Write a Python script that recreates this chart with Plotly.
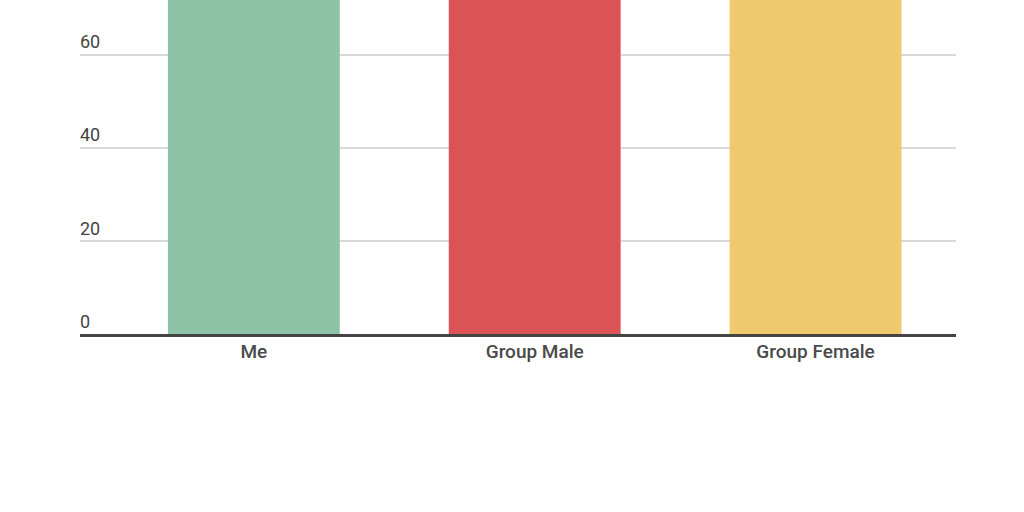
import plotly.graph_objects as go

# categories and values (bars run past the top of the visible axis)
groups = ["Me", "Group Male", "Group Female"]
scores = [90, 90, 90]
bar_colors = ["#8fc3a8", "#dc5355", "#efc96b"]
y_ticks = [0, 20, 40, 60]

fig = go.Figure(go.Bar(
    x=groups, y=scores, marker_color=bar_colors,
    width=0.612, marker_line_width=0, hoverinfo="x+y",
))

fig.update_layout(
    width=1024, height=512,
    margin=dict(l=80, r=68, t=0, b=178),
    paper_bgcolor="white", plot_bgcolor="white",
    font=dict(family="Roboto", size=19, color="#4a4a4a", weight=500),
    showlegend=False,
)
fig.update_xaxes(
    range=[-0.619, 2.5], showline=True, linecolor="#444444", linewidth=2.5,
    showgrid=False, ticks="", ticklabelstandoff=-2,
)
fig.update_yaxes(
    range=[0, 71.7], tickvals=y_ticks, showgrid=True, gridcolor="#d9d9d9",
    gridwidth=1.5, zeroline=False, ticklabelposition="inside top",
    ticklabelstandoff=-3,
    tickfont=dict(size=18, weight=400, color="#444444"),
)

# drop the default body margin so the figure sits flush with the window
fig.write_html("out.html", config={"displayModeBar": False},
               post_script="document.body.style.margin='0';")
